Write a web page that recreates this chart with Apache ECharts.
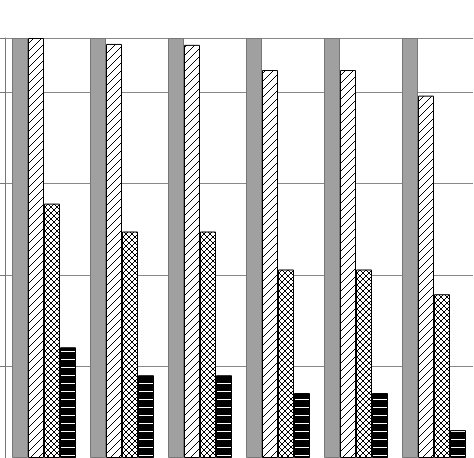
<!DOCTYPE html>
<html><head><meta charset="utf-8">
<script src="https://cdn.jsdelivr.net/npm/echarts@6/dist/echarts.min.js"></script>
<style>html,body{margin:0;background:#fff}#c{width:474px;height:458px}</style>
</head><body><div id="c"></div>
<script>
const categories = ['1', '2', '3', '4', '5', '6'];
const solidValues = [91.8, 91.8, 91.8, 91.8, 91.8, 91.8];
const diagValues = [91.8, 90.5, 90.3, 84.8, 84.8, 79.2];
const crossValues = [55.6, 49.5, 49.5, 41.2, 41.2, 35.8];
const stripeValues = [24.2, 18.1, 18.1, 14.2, 14.2, 6.1];

function pattern(draw, w, h) {
  const c = document.createElement('canvas');
  c.width = w; c.height = h;
  const g = c.getContext('2d');
  draw(g, w, h);
  return { image: c, repeat: 'repeat' };
}
const diag = pattern(function (g, w, h) {
  g.fillStyle = '#fff'; g.fillRect(0, 0, w, h);
  g.strokeStyle = '#000'; g.lineWidth = 1;
  g.beginPath(); g.moveTo(-1, h + 1); g.lineTo(w + 1, -1); g.stroke();
}, 8, 8);
const cross = pattern(function (g, w, h) {
  g.fillStyle = '#fff'; g.fillRect(0, 0, w, h);
  g.strokeStyle = '#000'; g.lineWidth = 1;
  g.beginPath();
  g.moveTo(0, 0); g.lineTo(w, h);
  g.moveTo(0, h); g.lineTo(w, 0);
  g.stroke();
}, 6, 6);
const stripes = pattern(function (g, w, h) {
  g.fillStyle = '#000'; g.fillRect(0, 0, w, h);
  g.fillStyle = '#fff'; g.fillRect(0, h - 1, w, 1);
}, 8, 8);

function bar(data, color, border) {
  return {
    type: 'bar', data: data, barWidth: 16, barGap: '0%',
    itemStyle: { color: color, borderColor: border, borderWidth: 1 },
    silent: true
  };
}

const chart = echarts.init(document.getElementById('c'));
chart.setOption({
  animation: false,
  grid: { left: 5, right: 1, top: 38, bottom: -1 },
  xAxis: {
    type: 'category', data: categories,
    axisLine: { show: false }, axisTick: { show: false }, axisLabel: { show: false }
  },
  yAxis: {
    type: 'value', min: 0, max: 91.8, interval: 20,
    axisLine: { show: true, lineStyle: { color: '#777' } },
    axisTick: { show: true, length: 5, inside: false, lineStyle: { color: '#777' } },
    axisLabel: { show: false },
    splitLine: { show: true, lineStyle: { color: '#888' } }
  },
  series: [
    bar(solidValues, '#a0a0a0', '#777'),
    bar(diagValues, diag, '#000'),
    bar(crossValues, cross, '#000'),
    bar(stripeValues, stripes, '#000')
  ]
});
</script></body></html>
